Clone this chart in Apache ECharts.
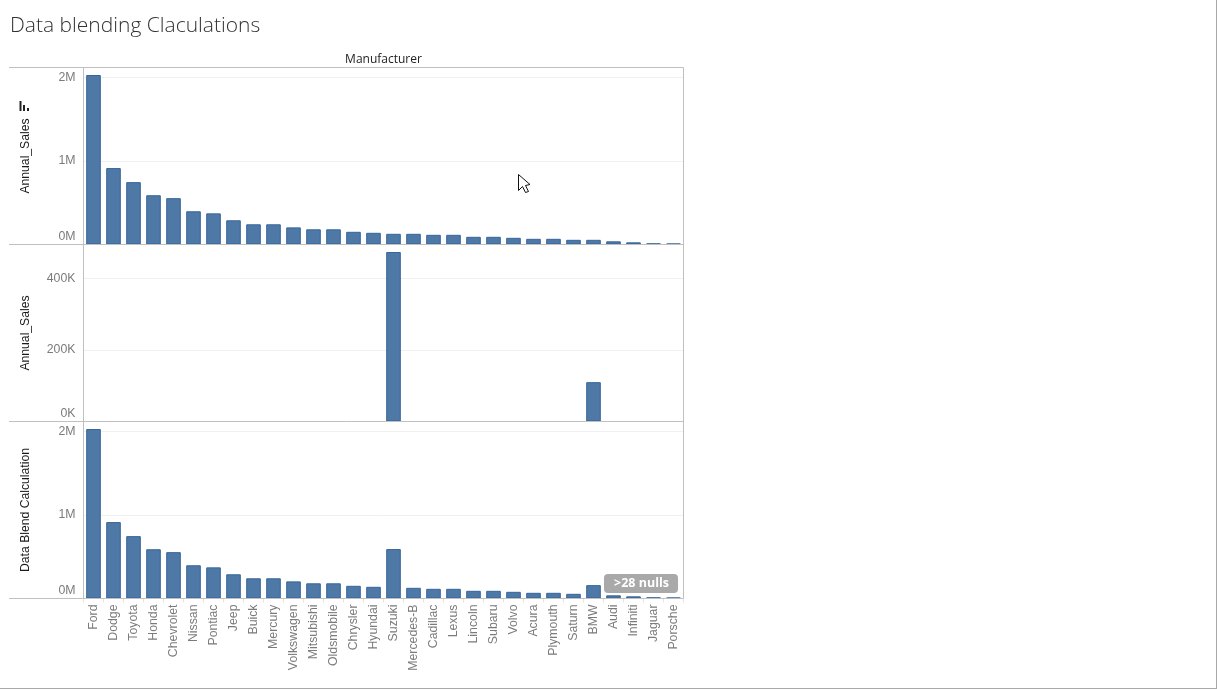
<!DOCTYPE html>
<html lang="en">
<head>
  <meta charset="UTF-8">
  <title>Data blending Claculations</title>
  <script src="https://cdn.jsdelivr.net/npm/echarts@6/dist/echarts.min.js"></script>
  <style>
    html, body { margin: 0; padding: 0; background: #fff; overflow: hidden; }
    #main { width: 1216px; height: 688px; border-right: 1px solid #a8a8a8; border-bottom: 1px solid #a8a8a8; }
  </style>
</head>
<body>
<div id="main"></div>
<script type="text/javascript">
  var manufacturers = ['Ford', 'Dodge', 'Toyota', 'Honda', 'Chevrolet', 'Nissan', 'Pontiac', 'Jeep', 'Buick', 'Mercury',
    'Volkswagen', 'Mitsubishi', 'Oldsmobile', 'Chrysler', 'Hyundai', 'Suzuki', 'Mercedes-B', 'Cadillac', 'Lexus', 'Lincoln',
    'Subaru', 'Volvo', 'Acura', 'Plymouth', 'Saturn', 'BMW', 'Audi', 'Infiniti', 'Jaguar', 'Porsche'];

  var primarySales = [2030000, 915000, 747000, 590000, 555000, 398000, 373000, 290000, 242000, 242000,
    205000, 182000, 182000, 152000, 140000, 128000, 128000, 116000, 116000, 92000,
    92000, 80000, 68000, 68000, 56000, 56000, 38000, 26000, 14000, 12000];

  var secondarySales = [null, null, null, null, null, null, null, null, null, null,
    null, null, null, null, null, 474000, null, null, null, null,
    null, null, null, null, null, 110000, null, null, null, null];

  var blendValues = [2030000, 915000, 747000, 590000, 555000, 398000, 373000, 290000, 242000, 242000,
    205000, 182000, 182000, 152000, 140000, 592000, 128000, 116000, 116000, 92000,
    92000, 80000, 68000, 68000, 56000, 160000, 38000, 26000, 14000, 12000];

  var axisNames = ['Annual_Sales', 'Annual_Sales', 'Data Blend Calculation'];

  var frameColor = '#c0c0c0';
  var gridColor = '#f0f0f0';
  var barColor = '#4e79a7';
  var barEdge = '#356599';
  var labelColor = '#7b7b7b';
  var font = '"Liberation Sans", Arial, sans-serif';

  var paneLeft = 83.5, paneWidth = 600, paneHeight = 177;
  var paneTops = [67.5, 244.5, 421.5];
  var valueMax = [2120000, 495000, 2120000];
  var valueStep = [1000000, 200000, 1000000];
  var seriesData = [primarySales, secondarySales, blendValues];

  // the zero label sits higher up so it stays inside its pane
  function tickText(text, v) {
    return v === 0 ? '{low|' + text + '}' : text;
  }
  function millions(v) { return tickText((v / 1000000) + 'M', v); }
  function thousands(v) { return tickText((v / 1000) + 'K', v); }

  var grids = [], xAxes = [], yAxes = [], series = [];
  for (let i = 0; i < 3; i++) {
    grids.push({
      left: paneLeft, top: paneTops[i], width: paneWidth, height: paneHeight,
      show: false
    });
    xAxes.push({
      type: 'category',
      gridIndex: i,
      data: manufacturers,
      axisLine: { show: false },
      axisTick: { show: i === 2, length: 4, lineStyle: { color: '#e4e4e4' } },
      axisLabel: {
        show: i === 2,
        interval: 0,
        rotate: 90,
        color: labelColor,
        fontFamily: font,
        fontSize: 12.3,
        margin: 6
      }
    });
    yAxes.push({
      type: 'value',
      gridIndex: i,
      min: 0,
      max: valueMax[i],
      interval: valueStep[i],
      name: axisNames[i],
      nameLocation: 'middle',
      nameGap: 52,
      nameTextStyle: { color: '#1a1a1a', fontFamily: font, fontSize: 12.2 },
      axisLine: { show: false },
      axisTick: { show: false },
      splitLine: { show: true, showMaxLine: false, showMinLine: false, lineStyle: { color: gridColor } },
      axisLabel: {
        color: labelColor,
        fontFamily: font,
        fontSize: 12.3,
        margin: 8,
        showMaxLabel: false,
        verticalAlignMinLabel: 'bottom',
        formatter: i === 1 ? thousands : millions,
        rich: {
          low: { color: labelColor, fontFamily: font, fontSize: 12.3, padding: [0, 0, 2, 0] }
        }
      }
    });
    series.push({
      type: 'bar',
      xAxisIndex: i,
      yAxisIndex: i,
      data: seriesData[i],
      barWidth: 14.6,
      itemStyle: { color: barColor, borderColor: barEdge, borderWidth: 1 },
      silent: true
    });
  }

  // pane frame, drawn above the bars like the reference
  var frame = [];
  [67.5, 244.5, 421.5, 598.5].forEach(function (y) {
    frame.push({ type: 'line', z: 50, shape: { x1: 9, y1: y, x2: 683.5, y2: y }, style: { stroke: frameColor, lineWidth: 1 } });
  });
  frame.push({ type: 'line', z: 50, shape: { x1: 83.5, y1: 67.5, x2: 83.5, y2: 598.5 }, style: { stroke: frameColor, lineWidth: 1 } });
  frame.push({ type: 'line', z: 50, shape: { x1: 683.5, y1: 67.5, x2: 683.5, y2: 598.5 }, style: { stroke: frameColor, lineWidth: 1 } });

  // sort icon next to the first axis title
  var sortIcon = [
    { type: 'rect', z: 50, shape: { x: 19.5, y: 101, width: 2, height: 10 }, style: { fill: '#222' } },
    { type: 'rect', z: 50, shape: { x: 23, y: 105, width: 2, height: 6 }, style: { fill: '#222' } },
    { type: 'rect', z: 50, shape: { x: 27, y: 108, width: 2, height: 3 }, style: { fill: '#222' } }
  ];

  // null indicator pill
  var nullBadge = [
    { type: 'rect', z: 60, shape: { x: 604, y: 574, width: 74, height: 19, r: 4 }, style: { fill: '#a9a9a9' } },
    {
      type: 'text', z: 61, x: 641.5, y: 583.5,
      style: { text: '>28 nulls', fill: '#fff', font: 'bold 12.5px "Open Sans", sans-serif', align: 'center', verticalAlign: 'middle' }
    }
  ];

  // mouse pointer caught in the screenshot
  var pointer = [{
    type: 'polygon', z: 70,
    shape: { points: [[518.5, 174.5], [518.5, 190.5], [522.5, 186.5], [525.5, 192.5], [528.5, 191.5], [525.5, 185.5], [530, 184.5]] },
    style: { fill: '#fff', stroke: '#111', lineWidth: 1 }
  }];

  var myChart = echarts.init(document.getElementById('main'), null, { renderer: 'canvas' });
  myChart.setOption({
    animation: false,
    title: [
      {
        text: 'Data blending Claculations',
        left: 5, top: 11,
        textStyle: { color: '#333', fontFamily: '"Open Sans", sans-serif', fontWeight: 300, fontSize: 21 }
      },
      {
        text: 'Manufacturer',
        left: 378.5, top: 48.5, textAlign: 'center',
        textStyle: { color: '#222', fontFamily: '"Open Sans", sans-serif', fontWeight: 'normal', fontSize: 12 }
      }
    ],
    grid: grids,
    xAxis: xAxes,
    yAxis: yAxes,
    series: series,
    graphic: frame.concat(sortIcon, nullBadge, pointer)
  });
</script>
</body>
</html>
